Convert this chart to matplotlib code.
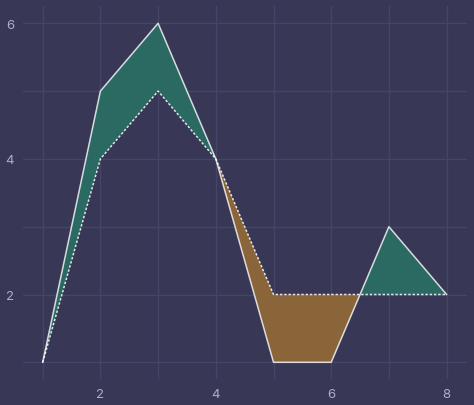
import matplotlib
matplotlib.use("Agg")
import matplotlib.pyplot as plt
import numpy as np
from matplotlib.ticker import MultipleLocator

x = [1, 2, 3, 4, 5, 6, 7, 8]
y_solid = [1, 5, 6, 4, 1, 1, 3, 2]
y_dotted = [1, 4, 5, 4, 2, 2, 2, 2]
x_ticks = [2, 4, 6, 8]
y_ticks = [2, 4, 6]

bg = '#383856'
green = '#2a6a62'
orange = '#8a6539'
grid_c = '#45456a'
text_c = '#aeaec6'

W, H = 474, 406
plt.rcParams['font.family'] = ['Inter', 'DejaVu Sans']
fig = plt.figure(figsize=(W / 100, H / 100), dpi=100, facecolor=bg)
left, width = 22.5, 444.3
top, height = 7.35, 372.9
ax = fig.add_axes([left / W, (H - top - height) / H, width / W, height / H])
ax.set_facecolor(bg)

xa = np.array(x, float)
ya = np.array(y_solid, float)
yb = np.array(y_dotted, float)
ax.fill_between(xa, ya, yb, where=ya >= yb, interpolate=True, color=green, linewidth=0)
ax.fill_between(xa, ya, yb, where=ya <= yb, interpolate=True, color=orange, linewidth=0)
ax.plot(xa, ya, color='white', alpha=0.8, linewidth=1.1, zorder=3)
ax.plot(xa, yb, color='white', alpha=0.85, linewidth=1.1, linestyle=(0, (1.6, 1.2)), zorder=3)

ax.set_xlim(0.65, 8.35)
ax.set_ylim(0.75, 6.25)
ax.set_xticks(x_ticks)
ax.set_yticks(y_ticks)
ax.xaxis.set_minor_locator(MultipleLocator(1))
ax.yaxis.set_minor_locator(MultipleLocator(1))
ax.grid(True, which='both', color=grid_c, linewidth=0.9)
ax.set_axisbelow(True)
ax.tick_params(which='both', length=0, colors=text_c, labelsize=9.5, pad=6)
for s in ax.spines.values():
    s.set_visible(False)

fig.savefig('out.png', dpi=100, facecolor=bg)
